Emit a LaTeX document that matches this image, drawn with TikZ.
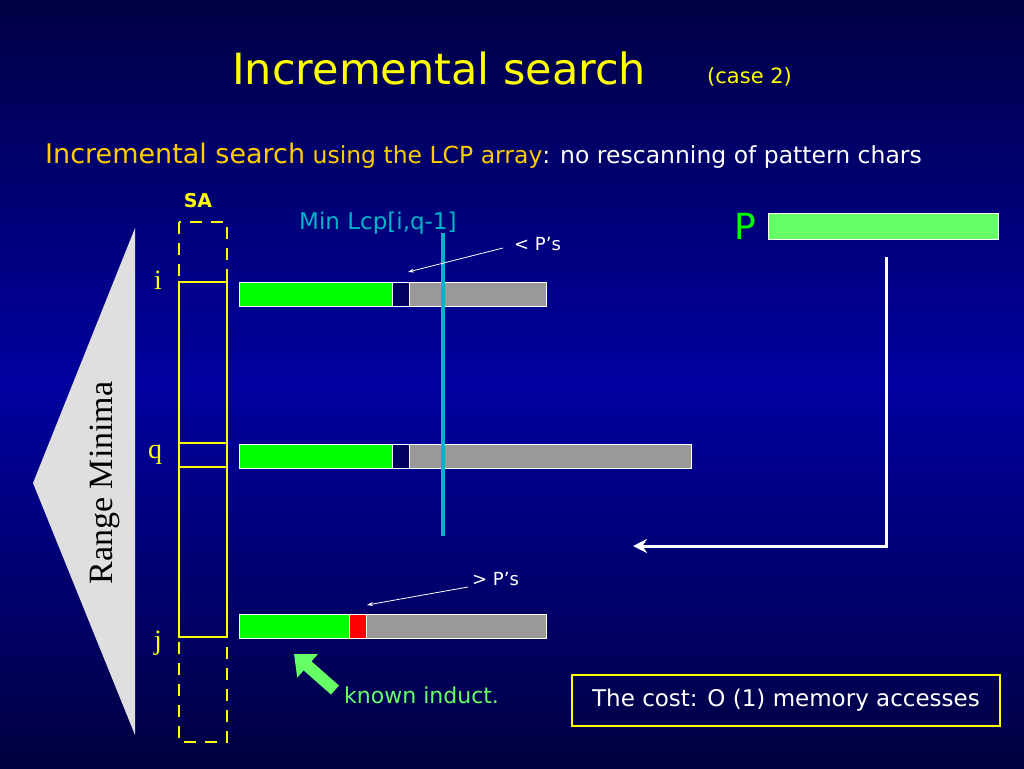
\documentclass[tikz,border=0pt]{standalone}
\usepackage{fontspec}
\setmainfont{DejaVu Sans}
\newfontfamily\serifx{Liberation Serif}
\usetikzlibrary{arrows.meta}
\definecolor{ttl}{HTML}{FFFF00}
\definecolor{org}{HTML}{FFCC00}
\definecolor{grn}{HTML}{00FF00}
\definecolor{lgrn}{HTML}{66FF66}
\definecolor{gry}{HTML}{999999}
\definecolor{nav}{HTML}{000060}
\definecolor{cyn}{HTML}{00B4CC}
\definecolor{bgtop}{HTML}{000045}
\definecolor{bgmid}{HTML}{0000A0}
\definecolor{bgbot}{HTML}{000040}
\begin{document}
\begin{tikzpicture}[x=1pt,y=-1pt,
  seg/.style={draw=white,line width=1pt},
  lbl/.style={inner sep=0pt,anchor=base west},
  ijq/.style={text=ttl,font=\serifx\fontsize{28}{28}\selectfont,inner sep=0pt},
  thin/.style={white,line width=0.8pt,-{Stealth[length=6pt,width=4pt]}}]
\useasboundingbox (0,0) rectangle (1024,768);
\shade[top color=bgtop,bottom color=bgbot,middle color=bgmid] (0,0) rectangle (1024,768);
% title
\node[lbl,text=ttl,font=\fontsize{43}{43}\selectfont] (title) at (232,84) {Incremental search};
\node[lbl,text=ttl,font=\fontsize{21}{21}\selectfont] (case) at (707,83) {(case 2)};
\node[lbl] (sub) at (45,163) {\fontsize{27}{27}\selectfont\color{org}Incremental search\fontsize{23.5}{23.5}\selectfont{} using the LCP array\color{white}: no rescanning of pattern chars};
% triangle
\fill[gray!25] (135,228) -- (135,735) -- (33,483) -- cycle;
\node[rotate=90,font=\serifx\fontsize{34}{34}\selectfont,text=black] (rm) at (105,483) {Range Minima};
% SA
\node[text=ttl,font=\bfseries\fontsize{19}{19}\selectfont] (sa) at (198,201) {SA};
\draw[ttl,line width=2.5pt,dash pattern=on 12pt off 9pt] (179,222) rectangle (227,742);
\draw[ttl,line width=2pt] (179,282) rectangle (227,637);
\draw[ttl,line width=2pt] (179,443) -- (227,443) (179,467) -- (227,467);
\node[ijq] (i) at (158,280) {i};
\node[ijq] (q) at (155,455) {q};
\node[ijq] (j) at (158,643) {j};
% bars
\fill[grn] (239,282) rectangle (392,306); \fill[nav] (392,282) rectangle (409,306); \fill[gry] (409,282) rectangle (546,306);
\draw[seg] (239,282) rectangle (546,306);
\fill[grn] (239,444) rectangle (392,468); \fill[nav] (392,444) rectangle (409,468); \fill[gry] (409,444) rectangle (691,468);
\draw[seg] (239,444) rectangle (691,468);
\fill[grn] (239,614) rectangle (349,638); \fill[red] (349,614) rectangle (366,638); \fill[gry] (366,614) rectangle (546,638);
\draw[seg] (239,614) rectangle (546,638);
\draw[white,line width=0.8pt] (392,282)--(392,306) (409,282)--(409,306) (392,444)--(392,468) (409,444)--(409,468) (349,614)--(349,638) (366,614)--(366,638);
% cyan line
\draw[cyn,line width=4pt] (443,233) -- (443,536);
\node[lbl,text=cyn,font=\fontsize{23}{23}\selectfont] (minlcp) at (299,229) {Min Lcp[i,q-1]};
\node[lbl,text=white,font=\fontsize{18}{18}\selectfont] (lt) at (514,250) {< P’s};
\coordinate (lta) at (408,272);
\draw[thin] (503,248) -- (lta);
\node[lbl,text=white,font=\fontsize{18}{18}\selectfont] (gt) at (472,585) {> P’s};
\coordinate (gta) at (367,605);
\draw[thin] (468,587) -- (gta);
% known induct
\draw[lgrn,line width=12pt,-{Triangle[length=18pt,width=30pt]}] (335,690) -- (294,654);
\node[lbl,text=lgrn,font=\fontsize{22}{22}\selectfont] (ki) at (344,703) {known induct.};
% P
\node[text=grn,font=\fontsize{36}{36}\selectfont,inner sep=0pt] (P) at (745,226) {P};
\draw[white,fill=lgrn,line width=1pt] (768,213) rectangle (998,239);
\coordinate (w1) at (886,257);
\coordinate (w2) at (633,546);
\draw[white,line width=3pt,-{Stealth[length=14pt,width=14pt]}] (w1) |- (w2);
% cost box
\node[draw=ttl,line width=2pt,minimum width=428pt,minimum height=51pt,text=white,font=\fontsize{23}{23}\selectfont] (cost) at (786,700) {The cost: O (1) memory accesses};
\end{tikzpicture}
\end{document}
